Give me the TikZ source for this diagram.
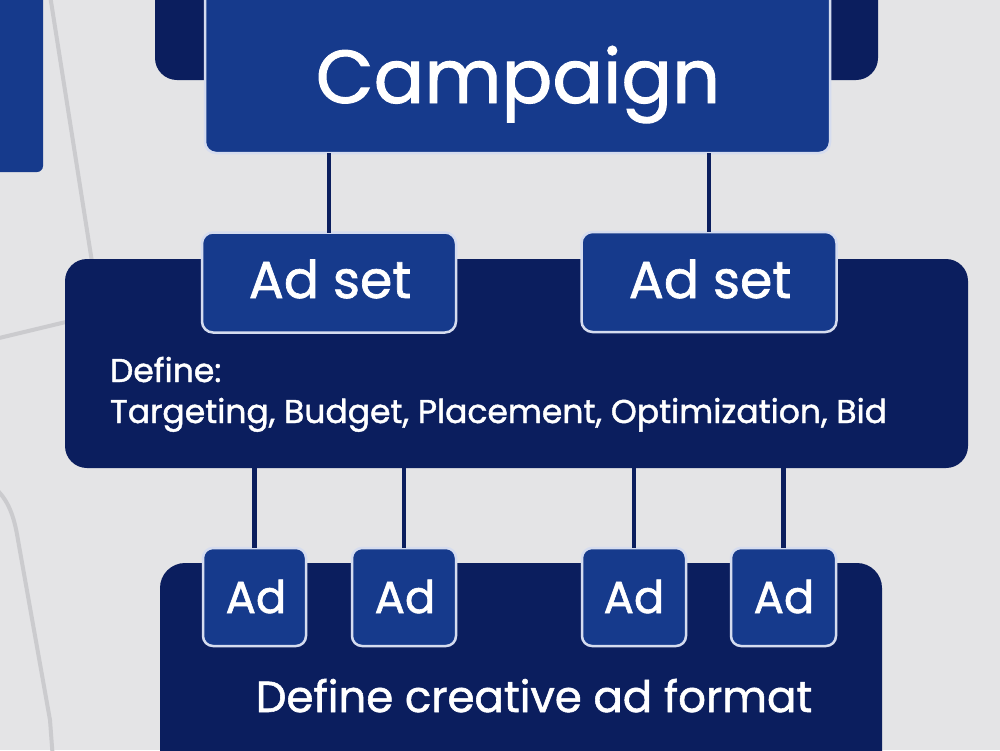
\documentclass[tikz,border=0pt]{standalone}
\usepackage{fontspec}
\setmainfont{Poppins}[FakeBold=1.3]
\definecolor{bgc}{HTML}{E4E4E6}
\definecolor{midblue}{HTML}{163A8C}
\definecolor{navy}{HTML}{0B1E5E}
\definecolor{rim}{HTML}{D5DCEF}
\definecolor{faint}{HTML}{CBCBCE}
\tikzset{
  every node/.style={inner sep=0pt, outer sep=0pt},
  navybox/.style={rectangle, fill=navy, rounded corners=22pt},
  midbox/.style={rectangle, fill=midblue, draw=rim, line width=2.5pt, rounded corners=11pt},
  wire/.style={draw=navy, line width=4.5pt},
  txt/.style={text=white, anchor=base},
  bgline/.style={draw=faint, line width=4pt},
}
\begin{document}
\begin{tikzpicture}[x=1pt, y=-1pt]
\fill[bgc] (0,0) rectangle (1000,750);
\useasboundingbox (0,0) rectangle (1000,750);
% faint background lines
\draw[bgline] (50,-5) -- (92,262);
\draw[bgline] (-5,339) -- (70,321);
\draw[bgline] (-5,488) .. controls (8,500) and (14,515) .. (18,540) -- (50,720) -- (53,760);
% left partial box
\node[rectangle, fill=midblue, rounded corners=6pt, minimum width=80pt, minimum height=200pt] (leftbox) at (3,72) {};
% navy back box behind campaign
\node[navybox, minimum width=723pt, minimum height=130pt] (topback) at (516.5,15) {};
% Define box
\node[navybox, minimum width=903pt, minimum height=209pt] (defbox) at (516.5,363.5) {};
% bottom box
\node[navybox, rounded corners=25pt, minimum width=722pt, minimum height=230pt] (botbox) at (521,678) {};
% campaign box
\node[midbox, minimum width=625pt, minimum height=203pt] (camp) at (517.5,51.5) {};
% ad set boxes
\node[midbox, minimum width=254pt, minimum height=100pt] (as1) at (329,282.5) {};
\node[midbox, minimum width=255pt, minimum height=100pt] (as2) at (709,282) {};
% ad boxes
\node[midbox, rounded corners=10pt, minimum width=103pt, minimum height=98pt] (ad1) at (254.5,597) {};
\node[midbox, rounded corners=10pt, minimum width=104pt, minimum height=98pt] (ad2) at (404,597) {};
\node[midbox, rounded corners=10pt, minimum width=104pt, minimum height=98pt] (ad3) at (634,597) {};
\node[midbox, rounded corners=10pt, minimum width=105pt, minimum height=98pt] (ad4) at (783.5,597) {};
% connectors (drawn between the box edges)
\path[wire] (camp.south -| as1.north) -- (as1.north);
\path[wire] (camp.south -| as2.north) -- (as2.north);
\path[wire] (defbox.south -| ad1.north) -- (ad1.north);
\path[wire] (defbox.south -| ad2.north) -- (ad2.north);
\path[wire] (defbox.south -| ad3.north) -- (ad3.north);
\path[wire] (defbox.south -| ad4.north) -- (ad4.north);
% texts
\node[txt, font=\fontsize{75}{80}\selectfont] (tcamp) at (518,103) {Campaign};
\node[txt, font=\fontsize{52}{56}\selectfont] (tas1) at (330,298) {Ad set};
\node[txt, font=\fontsize{52}{56}\selectfont] (tas2) at (710,298) {Ad set};
\node[txt, anchor=base west, font=\fontsize{33}{36}\selectfont] (tdef) at (110,382) {Define:};
\node[txt, anchor=base west, font=\fontsize{33}{36}\selectfont] (tlist) at (110,423) {Targeting, Budget, Placement, Optimization, Bid};
\node[txt, font=\fontsize{45}{48}\selectfont] (tad1) at (256,613) {Ad};
\node[txt, font=\fontsize{45}{48}\selectfont] (tad2) at (405,613) {Ad};
\node[txt, font=\fontsize{45}{48}\selectfont] (tad3) at (634,613) {Ad};
\node[txt, font=\fontsize{45}{48}\selectfont] (tad4) at (784,613) {Ad};
\node[txt, font=\fontsize{43.5}{46}\selectfont] (tfmt) at (534,712) {Define creative ad format};
\end{tikzpicture}
\end{document}
